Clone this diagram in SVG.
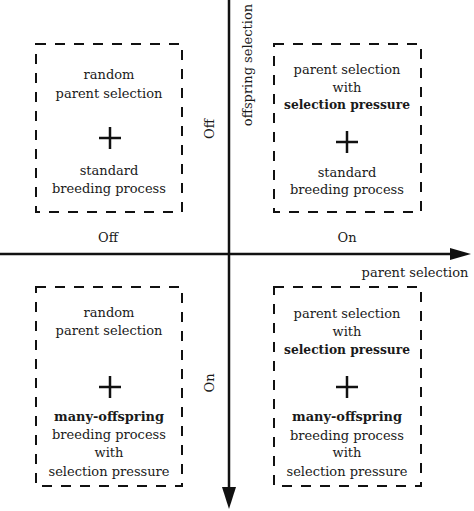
<svg xmlns="http://www.w3.org/2000/svg" width="474" height="511" viewBox="0 0 474 511">
<style>
text{font-family:"DejaVu Serif","Liberation Serif",serif;font-size:13px;fill:#1a1a1a;text-anchor:middle}
.b{font-weight:bold}
.box{fill:none;stroke:#111;stroke-width:2;stroke-dasharray:10 9}
.plus{stroke:#111;stroke-width:2.5}
.axis{stroke:#111;stroke-width:2.5;fill:none}
</style>
<defs>
<g id="plus"><line class="plus" x1="-11" y1="0" x2="11" y2="0"/><line class="plus" x1="0" y1="-11" x2="0" y2="11"/></g>
</defs>
<rect width="474" height="511" fill="#fff"/>
<g id="connectors">
<line class="axis" x1="0" y1="254" x2="452" y2="254"/>
<polygon points="450,248 471,254 450,260" fill="#111"/>
<line class="axis" x1="229" y1="0" x2="229" y2="490"/>
<polygon points="222,487 229,509 236,487" fill="#111"/>
</g>
<g id="axis-labels">
<text x="108" y="242">Off</text>
<text x="347" y="242">On</text>
<text x="415" y="277">parent selection</text>
<text transform="translate(214,129) rotate(-90)">Off</text>
<text transform="translate(214,383) rotate(-90)">On</text>
<text transform="translate(252,65) rotate(-90)">offspring selection</text>
</g>
<g id="q-off-off">
<rect class="box" x="36" y="44" width="146" height="168"/>
<text x="109" y="79">random</text>
<text x="109" y="98">parent selection</text>
<use href="#plus" x="110" y="138"/>
<text x="109" y="175">standard</text>
<text x="109" y="193">breeding process</text>
</g>
<g id="q-on-off">
<rect class="box" x="274" y="44" width="147" height="168"/>
<text x="347" y="74">parent selection</text>
<text x="347" y="92">with</text>
<text class="b" x="347" y="109" textLength="126" lengthAdjust="spacingAndGlyphs">selection pressure</text>
<use href="#plus" x="347" y="142"/>
<text x="347" y="177">standard</text>
<text x="347" y="194">breeding process</text>
</g>
<g id="q-off-on">
<rect class="box" x="36" y="287" width="146" height="199"/>
<text x="109" y="317">random</text>
<text x="109" y="335">parent selection</text>
<use href="#plus" x="110" y="387"/>
<text class="b" x="109" y="421" textLength="110" lengthAdjust="spacingAndGlyphs">many-offspring</text>
<text x="109" y="439">breeding process</text>
<text x="109" y="457">with</text>
<text x="109" y="476">selection pressure</text>
</g>
<g id="q-on-on">
<rect class="box" x="274" y="287" width="147" height="199"/>
<text x="347" y="318">parent selection</text>
<text x="347" y="336">with</text>
<text class="b" x="347" y="354" textLength="126" lengthAdjust="spacingAndGlyphs">selection pressure</text>
<use href="#plus" x="347" y="387"/>
<text class="b" x="347" y="421" textLength="110" lengthAdjust="spacingAndGlyphs">many-offspring</text>
<text x="347" y="440">breeding process</text>
<text x="347" y="457">with</text>
<text x="347" y="476">selection pressure</text>
</g>
</svg>
